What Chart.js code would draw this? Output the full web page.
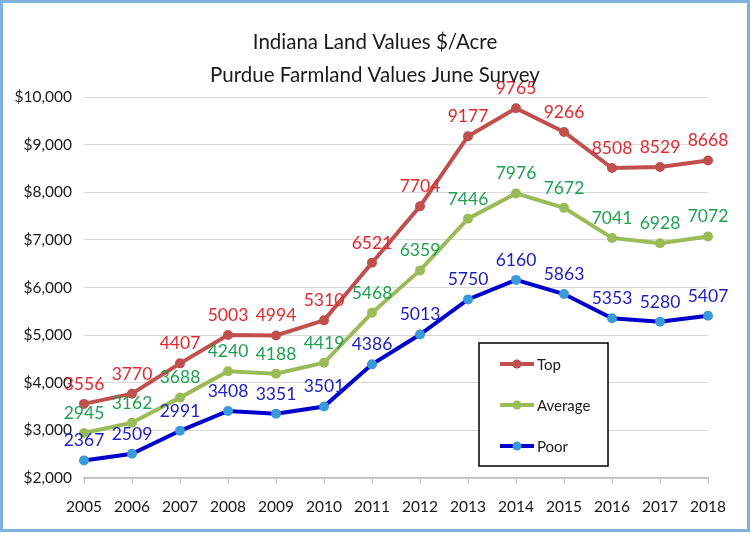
<!DOCTYPE html>
<html lang="en">
<head>
<meta charset="UTF-8">
<title>Indiana Land Values</title>
<script src="https://cdn.jsdelivr.net/npm/chart.js"></script>
<style>
  html, body { margin: 0; padding: 0; background: #fff; }
  #wrap { width: 750px; height: 534px; position: relative; }
</style>
</head>
<body>
<div id="wrap"><canvas id="chart"></canvas></div>
<script>
// data
const years = ['2005','2006','2007','2008','2009','2010','2011','2012','2013','2014','2015','2016','2017','2018'];
const topValues = [3556, 3770, 4407, 5003, 4994, 5310, 6521, 7704, 9177, 9765, 9266, 8508, 8529, 8668];
const averageValues = [2945, 3162, 3688, 4240, 4188, 4419, 5468, 6359, 7446, 7976, 7672, 7041, 6928, 7072];
const poorValues = [2367, 2509, 2991, 3408, 3351, 3501, 4386, 5013, 5750, 6160, 5863, 5353, 5280, 5407];
const titleLines = ['Indiana Land Values $/Acre', 'Purdue Farmland Values June Survey'];

const FONT = 'Lato, "Open Sans", sans-serif';

// value labels above each point, in the dataset's label colour
const valueLabels = {
    id: 'valueLabels',
    afterDatasetsDraw(chart) {
        const ctx = chart.ctx;
        ctx.save();
        ctx.font = '17.5px ' + FONT;
        ctx.textAlign = 'center';
        ctx.textBaseline = 'bottom';
        chart.data.datasets.forEach((ds, i) => {
            const meta = chart.getDatasetMeta(i);
            ctx.fillStyle = ds.labelColor;
            meta.data.forEach((pt, j) => {
                ctx.fillText(String(ds.data[j]), pt.x, pt.y - 11);
            });
        });
        ctx.restore();
    }
};

// title, boxed legend inside the plot and the blue outer frame
const decorations = {
    id: 'decorations',
    beforeDraw(chart) {
        const ctx = chart.ctx;
        ctx.save();
        ctx.fillStyle = '#fff';
        ctx.fillRect(0, 0, chart.width, chart.height);
        ctx.restore();
    },
    afterDraw(chart) {
        const ctx = chart.ctx;
        ctx.save();
        ctx.fillStyle = '#1a1a1a';
        ctx.font = '20.5px ' + FONT;
        ctx.textAlign = 'center';
        ctx.textBaseline = 'middle';
        ctx.fillText(titleLines[0], 375, 42);
        ctx.fillText(titleLines[1], 375, 75);

        // legend box
        const bx = 479, by = 343, bw = 129, bh = 123;
        ctx.fillStyle = '#fff';
        ctx.fillRect(bx, by, bw, bh);
        ctx.strokeStyle = '#000';
        ctx.lineWidth = 1.5;
        ctx.strokeRect(bx, by, bw, bh);
        ctx.font = '15px ' + FONT;
        ctx.textAlign = 'left';
        chart.data.datasets.forEach((ds, i) => {
            const y = by + 21 + i * 41;
            ctx.strokeStyle = ds.borderColor;
            ctx.lineWidth = 4;
            ctx.beginPath();
            ctx.moveTo(bx + 21, y);
            ctx.lineTo(bx + 55, y);
            ctx.stroke();
            ctx.fillStyle = ds.pointBackgroundColor;
            ctx.beginPath();
            ctx.arc(bx + 38, y, 4.5, 0, Math.PI * 2);
            ctx.fill();
            ctx.fillStyle = '#1a1a1a';
            ctx.fillText(ds.label, bx + 58, y + 1);
        });

        // outer frame
        ctx.strokeStyle = '#7fb2e0';
        ctx.lineWidth = 3;
        ctx.strokeRect(1.5, 1.5, chart.width - 3, chart.height - 5);
        ctx.restore();
    }
};

new Chart(document.getElementById('chart'), {
    type: 'line',
    data: {
        labels: years,
        datasets: [
            {
                label: 'Top', data: topValues,
                borderColor: '#c0504d', pointBackgroundColor: '#c0504d', pointBorderColor: '#c0504d',
                labelColor: '#e0282f'
            },
            {
                label: 'Average', data: averageValues,
                borderColor: '#9bbb59', pointBackgroundColor: '#9bbb59', pointBorderColor: '#9bbb59',
                labelColor: '#20a050'
            },
            {
                label: 'Poor', data: poorValues,
                borderColor: '#0000cc', pointBackgroundColor: '#3b9ad9', pointBorderColor: '#3b9ad9',
                labelColor: '#2020c0'
            }
        ]
    },
    options: {
        responsive: true,
        maintainAspectRatio: false,
        animation: false,
        layout: { padding: { top: 97, right: 42, bottom: 0, left: 0 } },
        elements: {
            line: { borderWidth: 4, tension: 0 },
            point: { radius: 5, borderWidth: 0, hoverRadius: 5 }
        },
        plugins: {
            legend: { display: false },
            title: { display: false },
            tooltip: { enabled: false }
        },
        scales: {
            x: {
                offset: false,
                afterFit(scale) { scale.height = 56; },
                grid: { drawOnChartArea: false, drawTicks: true, tickLength: 6, color: '#bfbfbf' },
                border: { color: '#bfbfbf', width: 1.5 },
                ticks: { color: '#1a1a1a', font: { family: FONT, size: 15.5 }, padding: 14, maxRotation: 0 }
            },
            y: {
                min: 2000, max: 10000,
                afterFit(scale) { scale.width = 84; },
                grid: { color: '#d9d9d9', drawTicks: false, lineWidth: 1 },
                border: { display: false },
                ticks: {
                    stepSize: 1000,
                    color: '#1a1a1a',
                    padding: 12,
                    font: { family: FONT, size: 15.5 },
                    callback: v => '$' + v.toLocaleString('en-US')
                }
            }
        }
    },
    plugins: [valueLabels, decorations]
});
</script>
</body>
</html>
